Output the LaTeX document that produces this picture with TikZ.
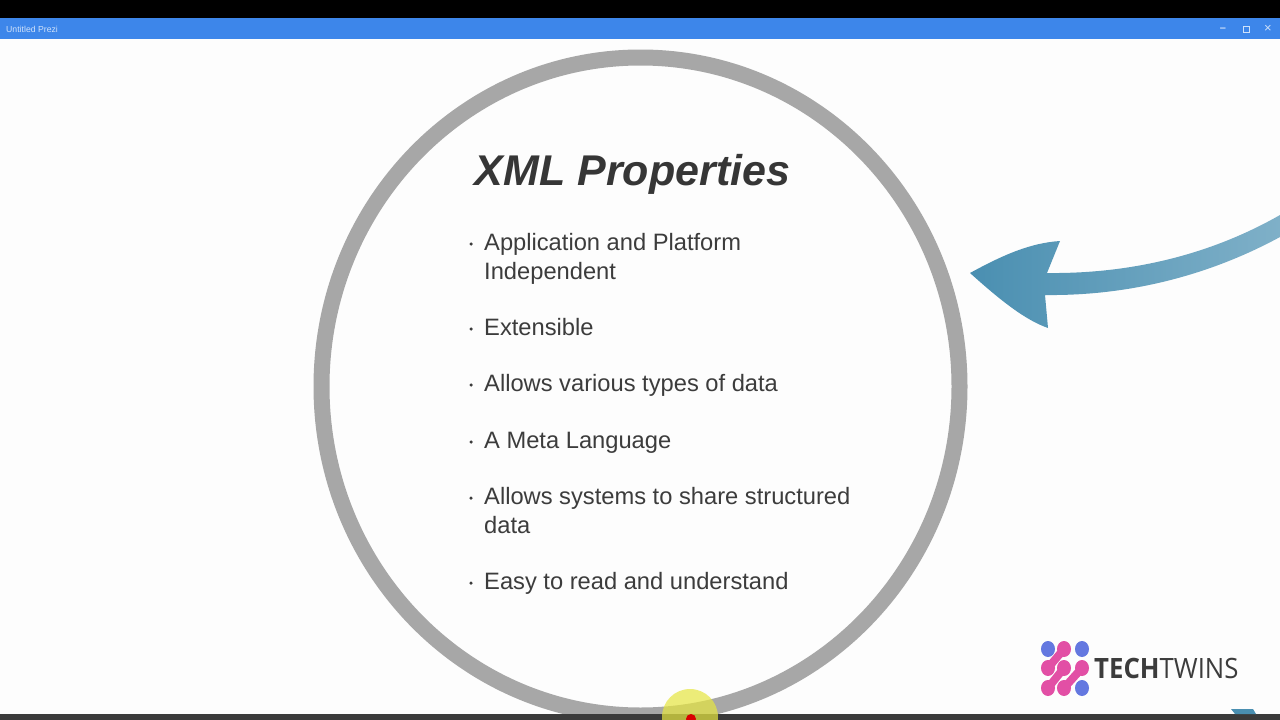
\documentclass[tikz,border=0pt]{standalone}
\usepackage{fontspec}
\setmainfont{Liberation Sans}
\newfontfamily\logofont{Open Sans}
\usetikzlibrary{positioning,shapes.geometric}
\definecolor{barblue}{HTML}{3D86EA}
\definecolor{ringgray}{HTML}{A7A7A7}
\definecolor{textgray}{HTML}{3C3C3C}
\definecolor{arrowdark}{HTML}{4A8FB1}
\definecolor{arrowlight}{HTML}{7FB0C8}
\definecolor{dotblue}{HTML}{6478E0}
\definecolor{dotpink}{HTML}{E24FA5}
\definecolor{taskdark}{HTML}{3B3B3B}
\definecolor{pointeryellow}{HTML}{E6E640}
\definecolor{paper}{HTML}{FDFDFD}
\begin{document}
\begin{tikzpicture}[
  x=1pt, y=-1pt,
  item/.style={font=\fontsize{23.7}{28.3}\selectfont, text=textgray, align=left,
               anchor=north west, inner sep=0pt},
  dotmark/.style={circle, fill=textgray, inner sep=0pt, minimum size=3.5pt},
  logodot/.style={ellipse, inner sep=0pt, minimum width=14pt, minimum height=16pt},
  logolink/.style={line width=8pt, dotpink},
  winbtn/.style={font=\fontsize{8.7}{9}\selectfont, text=white!75!barblue, inner sep=0pt}
]
  \useasboundingbox (0,0) rectangle (1280,720);
  \fill[paper] (0,0) rectangle (1280,720);
  \fill[black] (0,0) rectangle (1280,18);
  \fill[barblue] (0,18) rectangle (1280,39);
  \node[winbtn, anchor=west] (prezi) at (6,29) {Untitled Prezi};
  \node[winbtn, font=\fontsize{11}{11}\selectfont\bfseries] (minbtn) at (1223,30) {--};
  \node[winbtn, draw=white!75!barblue, minimum size=6pt] (maxbtn) at (1246,29) {};
  \node[winbtn, font=\fontsize{13}{13}\selectfont] (closebtn) at (1268,29) {×};

  % ring
  \node[ellipse, draw=ringgray, line width=16pt, line join=round, minimum width=638pt,
        minimum height=658pt, inner sep=0pt] (ring) at (640.5,386.5) {};

  \node[font=\fontsize{43}{43}\selectfont\bfseries\itshape, text=textgray!90!black,
        inner sep=0pt] (title) at (632.5,174) {XML Properties};

  \node[item] (i1) at (484,233.5) {Application and Platform\\Independent};
  \node[item] (i2) at (484,318.5) {Extensible};
  \node[item] (i3) at (484,374.5) {Allows various types of data};
  \node[item] (i4) at (484,431.5) {A Meta Language};
  \node[item] (i5) at (484,487.5) {Allows systems to share structured\\data};
  \node[item] (i6) at (484,572.5) {Easy to read and understand};
  \foreach \i/\y in {1/244,2/329,3/385,4/442,5/498,6/583}
    \node[dotmark] (b\i) at (471,\y) {};

  % arrow
  \shade[left color=arrowdark, right color=arrowlight]
    (970,273) .. controls (1003,255) and (1030,243) .. (1060,241)
    -- (1047,273) .. controls (1130,274) and (1210,255) .. (1280,215)
    -- (1280,237) .. controls (1210,275) and (1130,296) .. (1045,295)
    -- (1048,328) .. controls (1025,320) and (1000,300) .. cycle;

  % bottom bar
  \fill[taskdark] (0,714) rectangle (1280,720);
  \fill[arrowdark] (1231,709) -- (1253,709) -- (1256,714) -- (1235,714) -- cycle;
  \fill[pointeryellow, opacity=0.7] (690,717) circle (28);
  \fill[red!85!black] (691,719) circle (5);

  % logo
  \foreach \n/\x/\y in {a/1048/649,b/1082/649,c/1082/688}
    \node[logodot, fill=dotblue] (\n) at (\x,\y) {};
  \draw[logolink] (1064,649) -- (1048,668);
  \draw[logolink] (1064,668) -- (1048,688);
  \draw[logolink] (1082,668) -- (1064,688);
  \foreach \n/\x/\y in {d/1064/649,e/1048/668,f/1064/668,g/1082/668,h/1048/688,j/1064/688}
    \node[logodot, fill=dotpink] (\n) at (\x,\y) {};
  \node[font=\fontsize{28}{28}\selectfont\logofont, text=textgray, inner sep=0pt, anchor=west,
        xscale=0.92] (logo) at (1094,668) {\textbf{TECH}TWINS};
\end{tikzpicture}
\end{document}
